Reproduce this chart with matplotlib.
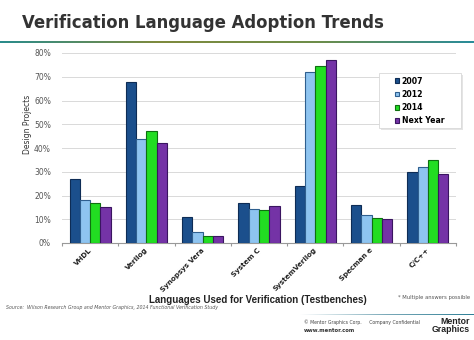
import numpy as np
import matplotlib
matplotlib.use("Agg")
import matplotlib.pyplot as plt
from matplotlib.colors import LinearSegmentedColormap
from matplotlib.patches import Rectangle

categories = ["VHDL", "Verilog", "Synopsys Vera", "System C", "SystemVerilog", "Specman e", "C/C++"]
series_names = ["2007", "2012", "2014", "Next Year"]
v2007 = [27, 68, 11, 17, 24, 16, 30]
v2012 = [18, 44, 4.5, 14.5, 72, 12, 32]
v2014 = [17, 47, 3, 14, 74.5, 10.5, 35]
vnext = [15, 42, 3, 15.5, 77, 10, 29]
yticks = [0, 10, 20, 30, 40, 50, 60, 70, 80]
ytick_labels = ["0%", "10%", "20%", "30%", "40%", "50%", "60%", "70%", "80%"]

colors = ["#1B4F8C", "#8EC4F0", "#22DD22", "#7433A6"]
edges = ["#0E2C55", "#2F5F8F", "#0F6F10", "#3A1560"]

W, H = 474, 340
fig = plt.figure(figsize=(W / 100, H / 100), dpi=100)
fig.patch.set_facecolor("white")

# Title
fig.text(22 / W, 1 - 23 / H, "Verification Language Adoption Trends", fontsize=11.9,
         fontweight="bold", color="#333333", va="center", ha="left", family="DejaVu Sans")

# Gradient rule under title
lax = fig.add_axes([0, 1 - 43.5 / H, 1, 2.2 / H])
cmap = LinearSegmentedColormap.from_list("rule", ["#2A8C8C", "#7F8A3E", "#6E8E4A", "#2A8C9A"])
lax.imshow(np.linspace(0, 1, 256)[None, :], aspect="auto", cmap=cmap)
lax.axis("off")

ax = fig.add_axes([62 / W, 1 - 243 / H, 394 / W, 190 / H])
x = np.arange(len(categories))
bw = 0.183
data = [v2007, v2012, v2014, vnext]
handles = []
for i, (vals, name) in enumerate(zip(data, series_names)):
    b = ax.bar(x + (i - 1.5) * bw, vals, width=bw, color=colors[i], edgecolor=edges[i],
               linewidth=0.8, label=name, zorder=3)
    handles.append(b)

ax.set_xlim(-0.5, len(categories) - 0.5)
ax.set_ylim(0, 80)
ax.set_yticks(yticks)
ax.set_yticklabels(ytick_labels, fontsize=5.5, color="#555555")
ax.yaxis.grid(True, color="#d9d9d9", linewidth=0.7, zorder=0)
ax.tick_params(axis="y", length=0, pad=8)
ax.set_xticks(np.arange(-0.5, len(categories), 1.0), minor=False)
ax.set_xticklabels([])
ax.tick_params(axis="x", length=2.5, color="#999999", direction="out")
for xi, lab in zip(x, categories):
    ax.text(xi - 0.03, -1.6, lab, rotation=45, ha="right", va="top", rotation_mode="anchor",
            fontsize=5.1, fontweight="bold", color="#222222")
for s in ["top", "right", "left"]:
    ax.spines[s].set_visible(False)
ax.spines["bottom"].set_color("#999999")
ax.spines["bottom"].set_linewidth(0.8)

fig.text(27 / W, 1 - 124 / H, "Design Projects", rotation=90, fontsize=5.5,
         color="#333333", ha="center", va="center")

# Legend frame (drawn manually, with soft shadow)
lx0, ly0, lx1, ly1 = 379, 73, 461, 128
sh = Rectangle((lx0 / W + 2 / W, 1 - ly1 / H - 2 / H), (lx1 - lx0) / W, (ly1 - ly0) / H,
               transform=fig.transFigure, facecolor="#e4e4e4", edgecolor="none", zorder=4)
fr = Rectangle((lx0 / W, 1 - ly1 / H), (lx1 - lx0) / W, (ly1 - ly0) / H,
               transform=fig.transFigure, facecolor="white", edgecolor="#d8d8d8",
               linewidth=0.6, zorder=5)
fig.add_artist(sh)
fig.add_artist(fr)
leg = fig.legend(handles, series_names, loc="upper left", bbox_to_anchor=(393 / W, 1 - 75 / H),
                 frameon=False, handlelength=0.55, handleheight=0.55, handletextpad=0.35,
                 borderpad=0.2, borderaxespad=0, labelspacing=0.55,
                 prop={"weight": "bold", "size": 5.6})
leg.set_zorder(6)

fig.text(258 / W, 1 - 300 / H, "Languages Used for Verification (Testbenches)", fontsize=7.0,
         fontweight="bold", color="#222222", ha="center", va="center", family="Liberation Sans")
fig.text(470 / W, 1 - 297 / H, "* Multiple answers possible", fontsize=3.8, color="#555555",
         ha="right", va="center")
fig.text(6 / W, 1 - 307 / H,
         "Source:  Wilson Research Group and Mentor Graphics, 2014 Functional Verification Study",
         fontsize=3.4, style="italic", color="#555555", ha="left", va="center")

# footer rule
fax = fig.add_axes([300 / W, 1 - 315 / H, 174 / W, 1.2 / H])
fcmap = LinearSegmentedColormap.from_list("f", ["#ffffff", "#7aa9b8", "#2E7F96"])
fax.imshow(np.linspace(0, 1, 256)[None, :], aspect="auto", cmap=fcmap)
fax.axis("off")

fig.text(304 / W, 1 - 322 / H, "\u00a9 Mentor Graphics Corp.     Company Confidential",
         fontsize=3.3, color="#444444", ha="left", va="center")
fig.text(304 / W, 1 - 331 / H, "www.mentor.com", fontsize=3.8, fontweight="bold",
         color="#333333", ha="left", va="center")
fig.text(470 / W, 1 - 321 / H, "Mentor", fontsize=6.3, fontweight="bold", color="#222222",
         ha="right", va="center", family="Liberation Sans")
fig.text(470 / W, 1 - 330 / H, "Graphics", fontsize=6.3, fontweight="bold", color="#222222",
         ha="right", va="center", family="Liberation Sans")

fig.savefig("out.png", dpi=100, facecolor="white")
